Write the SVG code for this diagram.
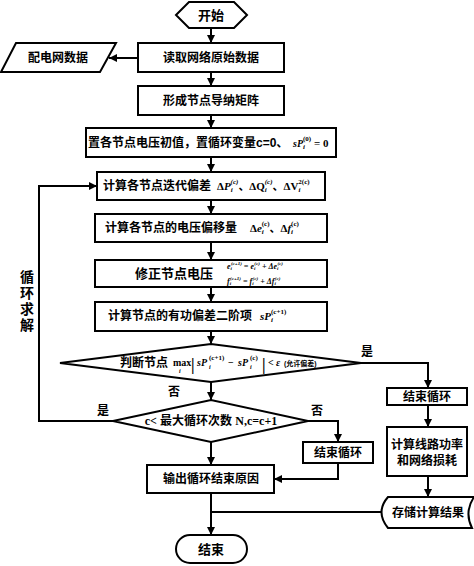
<svg xmlns="http://www.w3.org/2000/svg" width="474" height="566" viewBox="0 0 474 566">
<style>
.s{fill:#fff;stroke:#000;stroke-width:2}
.t{font-family:"Liberation Sans","Noto Sans CJK SC",sans-serif;font-weight:bold;font-size:12px;fill:#000}
.c{text-anchor:middle;dominant-baseline:central}
.m{font-family:"Liberation Serif","Noto Sans CJK SC",serif;font-weight:bold;fill:#000}
.i{font-style:italic}
.ln{fill:none;stroke:#000;stroke-width:2}
</style>
<defs>
<marker id="a" markerWidth="8" markerHeight="8" refX="8" refY="4" orient="auto" markerUnits="userSpaceOnUse"><path d="M0,0 L8,4 L0,8 z" fill="#000"/></marker>
</defs>
<rect width="474" height="566" fill="#fff"/>
<g id="connectors">
<path class="ln" d="M211,28 L211,43" marker-end="url(#a)"/>
<path class="ln" d="M138,58 L109,58" marker-end="url(#a)"/>
<path class="ln" d="M211,72 L211,86" marker-end="url(#a)"/>
<path class="ln" d="M211,115 L211,128" marker-end="url(#a)"/>
<path class="ln" d="M211,157 L211,172" marker-end="url(#a)"/>
<path class="ln" d="M211,200 L211,214" marker-end="url(#a)"/>
<path class="ln" d="M211,242 L211,260" marker-end="url(#a)"/>
<path class="ln" d="M211,287 L211,302" marker-end="url(#a)"/>
<path class="ln" d="M211,331 L211,344" marker-end="url(#a)"/>
<path class="ln" d="M211,382 L211,400" marker-end="url(#a)"/>
<path class="ln" d="M113,421 L39,421 L39,186 L97,186" marker-end="url(#a)"/>
<path class="ln" d="M361,363 L428,363 L428,388" marker-end="url(#a)"/>
<path class="ln" d="M428,405 L428,427" marker-end="url(#a)"/>
<path class="ln" d="M428,476 L428,497" marker-end="url(#a)"/>
<path class="ln" d="M308,421 L338,421 L338,442" marker-end="url(#a)"/>
<path class="ln" d="M338,463 L338,479 L274,479" marker-end="url(#a)"/>
<path class="ln" d="M211,442 L211,465" marker-end="url(#a)"/>
<path class="ln" d="M211,493 L211,535" marker-end="url(#a)"/>
<path class="ln" d="M381,512 L211,512"/>
<text class="t c" x="367" y="352">是</text>
<text class="t c" x="174" y="392">否</text>
<text class="t c" x="103" y="411">是</text>
<text class="t c" x="317" y="411">否</text>
<text class="t c" x="27" y="277" style="font-size:14px">循</text>
<text class="t c" x="27" y="293" style="font-size:14px">环</text>
<text class="t c" x="27" y="309" style="font-size:14px">求</text>
<text class="t c" x="27" y="325" style="font-size:14px">解</text>
</g>
<g id="start">
<polygon class="s" points="176,15 189,2 234,2 247,15 234,28 189,28"/>
<text class="t c" x="211" y="15" style="font-size:13px">开始</text>
</g>
<g id="read">
<rect class="s" x="138" y="43" width="146" height="29"/>
<text class="t c" x="211" y="58">读取网络原始数据</text>
</g>
<g id="data">
<polygon class="s" points="16,43 116,43 100,72 1,72"/>
<text class="t c" x="58" y="58">配电网数据</text>
</g>
<g id="matrix">
<rect class="s" x="138" y="86" width="146" height="29"/>
<text class="t c" x="211" y="101">形成节点导纳矩阵</text>
</g>
<g id="init">
<rect class="s" x="86" y="128" width="250" height="29"/>
<text class="t" x="88" y="147">置各节点电压初值，置循环变量c=0、</text>
<text class="m" x="293" y="147" style="font-size:11px"><tspan class="i" style="font-size:10px">sP</tspan><tspan class="i" style="font-size:7px" dy="2">i</tspan><tspan style="font-size:7px" dx="-2" dy="-8">(0)</tspan><tspan dy="6"> = 0</tspan></text>
</g>
<g id="iter">
<rect class="s" x="97" y="172" width="228" height="28"/>
<text class="t" x="103" y="190">计算各节点迭代偏差</text>
<text class="m" x="217" y="190" style="font-size:11px">Δ<tspan class="i">P</tspan><tspan class="i" style="font-size:7px" dy="2">i</tspan><tspan class="i" style="font-size:7px" dx="-2" dy="-8">(c)</tspan><tspan dy="6">、ΔQ</tspan><tspan class="i" style="font-size:7px" dy="2">i</tspan><tspan class="i" style="font-size:7px" dx="-2" dy="-8">(c)</tspan><tspan dy="6">、ΔV</tspan><tspan class="i" style="font-size:7px" dy="2">i</tspan><tspan style="font-size:7px" dx="-2" dy="-8">2(c)</tspan></text>
</g>
<g id="offset">
<rect class="s" x="95" y="214" width="232" height="28"/>
<text class="t" x="105" y="232">计算各节点的电压偏移量</text>
<text class="m" x="250" y="232" style="font-size:11px">Δ<tspan class="i">e</tspan><tspan class="i" style="font-size:7px" dy="2">i</tspan><tspan style="font-size:7px" dx="-2" dy="-8">(c)</tspan><tspan dy="6">、Δ</tspan><tspan class="i">f</tspan><tspan class="i" style="font-size:7px" dy="2">i</tspan><tspan style="font-size:7px" dx="-2" dy="-8">(c)</tspan></text>
</g>
<g id="correct">
<rect class="s" x="95" y="260" width="232" height="27"/>
<text class="t" x="135" y="278" style="font-size:13px">修正节点电压</text>
<text class="m i" x="227" y="269" style="font-size:8px">e<tspan style="font-size:5px" dy="1">i</tspan><tspan style="font-size:5px" dx="-1" dy="-5">(c+1)</tspan><tspan dy="4"> = e</tspan><tspan style="font-size:5px" dy="1">i</tspan><tspan style="font-size:5px" dx="-1" dy="-5">(c)</tspan><tspan dy="4"> + Δe</tspan><tspan style="font-size:5px" dy="1">i</tspan><tspan style="font-size:5px" dx="-1" dy="-5">(c)</tspan></text>
<text class="m i" x="227" y="284" style="font-size:8px">f<tspan style="font-size:5px" dy="1">i</tspan><tspan style="font-size:5px" dx="-1" dy="-5">(c+1)</tspan><tspan dy="4"> = f</tspan><tspan style="font-size:5px" dy="1">i</tspan><tspan style="font-size:5px" dx="-1" dy="-5">(c)</tspan><tspan dy="4"> + Δf</tspan><tspan style="font-size:5px" dy="1">i</tspan><tspan style="font-size:5px" dx="-1" dy="-5">(c)</tspan></text>
</g>
<g id="second">
<rect class="s" x="95" y="302" width="232" height="29"/>
<text class="t" x="108" y="320">计算节点的有功偏差二阶项</text>
<text class="m" x="260" y="320" style="font-size:11px"><tspan class="i">sP</tspan><tspan class="i" style="font-size:7px" dy="2">i</tspan><tspan style="font-size:7px" dx="-2" dy="-8">(c+1)</tspan></text>
</g>
<g id="judge">
<polygon class="s" points="60,363 211,344 361,363 211,382"/>
<text class="t" x="120" y="367">判断节点</text>
<text class="m" x="173" y="366" style="font-size:10px">max</text>
<text class="m i" x="179" y="373" style="font-size:6px">i</text>
<text class="m" x="191" y="370" style="font-size:16px">|</text>
<text class="m i" x="197" y="366" style="font-size:10px">sP</text>
<text class="m i" x="209" y="369" style="font-size:6px">i</text>
<text class="m" x="209" y="360" style="font-size:7px">(c+1)</text>
<text class="m" x="228" y="366" style="font-size:10px">−</text>
<text class="m i" x="238" y="366" style="font-size:10px">sP</text>
<text class="m i" x="250" y="369" style="font-size:6px">i</text>
<text class="m" x="250" y="360" style="font-size:7px">(c)</text>
<text class="m" x="262" y="370" style="font-size:16px">|</text>
<text class="m" x="268" y="366" style="font-size:10px">&lt;</text>
<text class="m i" x="276" y="366" style="font-size:10px">ε</text>
<text class="t" x="284" y="366" style="font-size:7px">(允许偏差)</text>
</g>
<g id="count">
<polygon class="s" points="113,421 211,400 308,421 211,442"/>
<text class="t c" x="211" y="421"><tspan font-family="Liberation Serif">c&lt; </tspan>最大循环次数 <tspan font-family="Liberation Serif">N,c=c+1</tspan></text>
</g>
<g id="endloop1">
<rect class="s" x="387" y="388" width="80" height="17"/>
<text class="t c" x="427" y="397">结束循环</text>
</g>
<g id="power">
<rect class="s" x="387" y="427" width="80" height="49"/>
<text class="t c" x="427" y="445">计算线路功率</text>
<text class="t c" x="427" y="461">和网络损耗</text>
</g>
<g id="store">
<path class="s" d="M388,497 L474,497 Q464,512 472,528 L388,528 Q375,512 388,497 Z"/>
<text class="t c" x="428" y="513">存储计算结果</text>
</g>
<g id="endloop2">
<rect class="s" x="303" y="442" width="70" height="21"/>
<text class="t c" x="338" y="453">结束循环</text>
</g>
<g id="output">
<rect class="s" x="147" y="465" width="127" height="28"/>
<text class="t c" x="211" y="479">输出循环结束原因</text>
</g>
<g id="end">
<rect class="s" x="176" y="535" width="71" height="28" rx="14" ry="14"/>
<text class="t c" x="211" y="549" style="font-size:13px">结束</text>
</g>
</svg>
